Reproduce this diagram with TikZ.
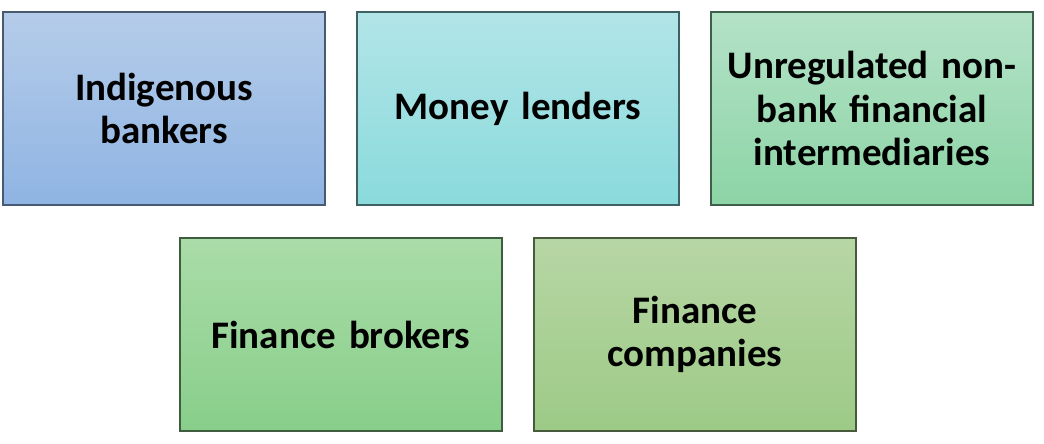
\documentclass[tikz,border=0pt]{standalone}
\usepackage{fontspec}
\setmainfont{Carlito}
\usetikzlibrary{positioning,calc}

\definecolor{blueTop}{RGB}{181,204,233}
\definecolor{blueBot}{RGB}{143,180,227}
\definecolor{tealTop}{RGB}{178,229,232}
\definecolor{tealBot}{RGB}{138,218,220}
\definecolor{mintTop}{RGB}{180,226,200}
\definecolor{mintBot}{RGB}{140,212,165}
\definecolor{greenTop}{RGB}{170,220,168}
\definecolor{greenBot}{RGB}{136,206,138}
\definecolor{oliveTop}{RGB}{183,214,165}
\definecolor{oliveBot}{RGB}{157,202,134}

\tikzset{
    sector/.style={draw, line width=1.4pt, minimum width=322pt, minimum height=193pt,
        inner sep=0pt, outer sep=0pt, text width=310pt, align=center,
        font=\fontsize{39}{43.5}\selectfont\bfseries},
}

\begin{document}
\begin{tikzpicture}[x=1pt, y=1pt, node distance=32pt]
        \useasboundingbox (0,0) rectangle (1044,-444);

        % Top row
        \node[sector, draw=blueBot!50!black, top color=blueTop, bottom color=blueBot]
            (indig) at (164,-108.5) {Indigenous\\bankers};
        \node[sector, draw=tealBot!45!black, top color=tealTop, bottom color=tealBot,
            right=of indig] (money) {Money lenders};
        \node[sector, draw=mintBot!45!black, top color=mintTop, bottom color=mintBot,
            right=of money] (unreg) {Unregulated non-\\bank financial\\intermediaries};

        % Bottom row
        \coordinate (gap) at ($(indig.south)!0.5!(money.south)$);
        \node[sector, draw=greenBot!45!black, top color=greenTop, bottom color=greenBot,
            below=33pt of gap] (broker) {Finance brokers};
        \node[sector, draw=oliveBot!45!black, top color=oliveTop, bottom color=oliveBot,
            right=of broker] (compan) {Finance\\companies};
    \end{tikzpicture}
\end{document}
